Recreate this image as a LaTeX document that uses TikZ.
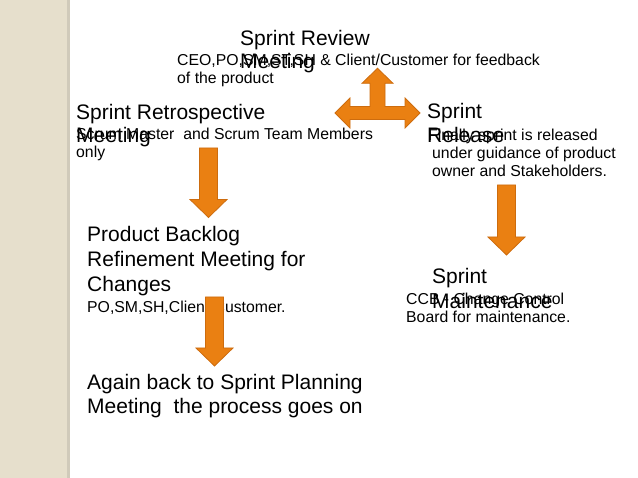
\documentclass[tikz,border=0pt]{standalone}
\usepackage{fontspec}
\setmainfont{Liberation Sans}
\definecolor{band}{RGB}{230,223,204}
\definecolor{bandedge}{RGB}{208,202,186}
\definecolor{arrowfill}{RGB}{234,128,18}
\definecolor{arrowline}{RGB}{205,108,14}
\newcommand{\bigtxt}{\fontsize{21}{25}\selectfont}
\newcommand{\smalltxt}{\fontsize{15.8}{18}\selectfont}
% down block arrow: centre x, top y, tip y
\newcommand{\blockdown}[3]{%
  \draw[blockarrow] (#1-9,#2) -- (#1+9,#2) -- (#1+9,#3-18) -- (#1+18.5,#3-18)
    -- (#1,#3) -- (#1-18.5,#3-18) -- (#1-9,#3-18) -- cycle;}
\begin{document}
\begin{tikzpicture}[x=1pt,y=-1pt,
  big/.style={anchor=base west,inner sep=0pt,font=\bigtxt,text=black},
  small/.style={anchor=base west,inner sep=0pt,font=\smalltxt,text=black},
  blockarrow/.style={fill=arrowfill,draw=arrowline,line width=0.8pt,line join=miter}]
\useasboundingbox (0,0) rectangle (638,478);
\fill[white] (0,0) rectangle (638,478);
\fill[band] (0,0) rectangle (67,478);
\fill[bandedge] (67,0) rectangle (70,478);

% Sprint Review
\node[big] (rev1) at (240,46) {Sprint Review};
\node[big] (rev2) at (240,69) {Meeting};
\node[small] (revd1) at (177,66) {CEO,PO,SM,ST,SH \& Client/Customer for feedback};
\node[small] (revd2) at (177,84) {of the product};

% Sprint Retrospective
\node[big] (ret1) at (76,120) {Sprint Retrospective};
\node[big] (ret2) at (76,143) {Meeting};
\node[small] (retd1) at (76,140) {Scrum Master\ \ and Scrum Team Members};
\node[small] (retd2) at (76,158) {only};

% Sprint Release
\node[big] (rel1) at (427,119) {Sprint};
\node[big] (rel2) at (427,143) {Release};
\node[small] (reld1) at (428,141) {Finally sprint is released};
\node[small] (reld2) at (432,159) {under guidance of product};
\node[small] (reld3) at (432,177) {owner and Stakeholders.};

% Product Backlog Refinement
\node[big] (pb1) at (87,242) {Product Backlog};
\node[big] (pb2) at (87,267) {Refinement Meeting for};
\node[big] (pb3) at (87,292) {Changes};
\node[small] (pbd) at (87,313) {PO,SM,SH,Client/Customer.};

% Again back
\node[big] (ag1) at (87,390) {Again back to Sprint Planning};
\node[big] (ag2) at (87,414) {Meeting\ \ the process goes on};

% Sprint Maintenance
\node[big] (mt1) at (432,284) {Sprint};
\node[big] (mt2) at (432,309) {Maintenance};
\node[small] (mtd1) at (406,305) {CCB - Change Control};
\node[small] (mtd2) at (406,323) {Board for maintenance.};

% three-way arrow
\draw[blockarrow] (377.5,68.3) -- (393,83.3) -- (385,83.3) -- (385,106.5)
  -- (405,106.5) -- (405,98) -- (420,113) -- (405,128) -- (405,119.5)
  -- (350,119.5) -- (350,128) -- (335,113) -- (350,98) -- (350,106.5)
  -- (370,106.5) -- (370,83.3) -- (362,83.3) -- cycle;

% down arrows
\blockdown{208.5}{148}{217.5}
\blockdown{506.5}{185}{255}
\blockdown{214.5}{297}{366}
\end{tikzpicture}
\end{document}
